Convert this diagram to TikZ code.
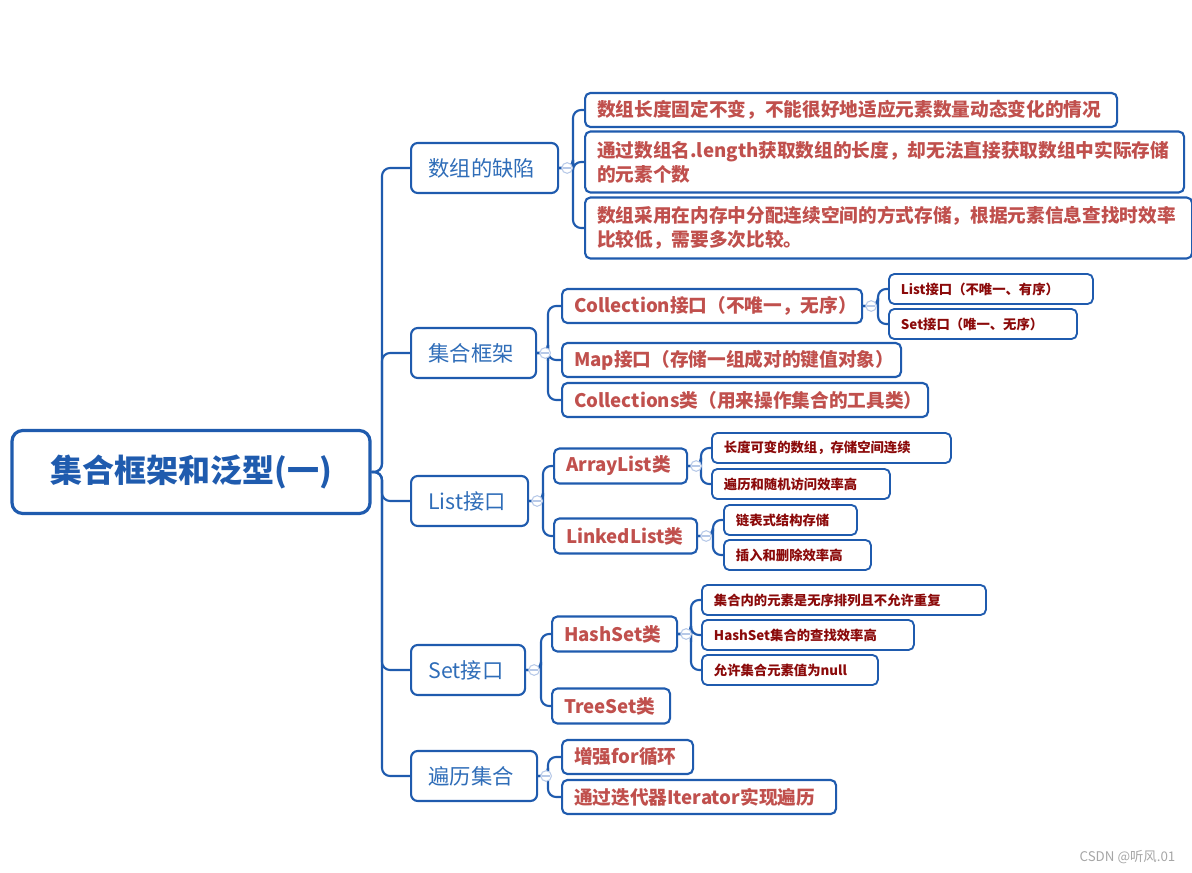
\documentclass[tikz,border=0pt]{standalone}
\usepackage{fontspec}
\setmainfont{Noto Sans CJK SC}
\usetikzlibrary{calc, positioning}
\definecolor{lineblue}{HTML}{1F5BAE}
\definecolor{textblue}{HTML}{2F6DB8}
\definecolor{textred}{HTML}{C0504D}
\definecolor{darkred}{HTML}{8B0A0A}
\definecolor{foldblue}{HTML}{B7C9E8}

% box with left-aligned text: name, x, y centre, width, height (pixels), style, text
\newcommand{\mmbox}[7]{%
  \node[#6, anchor=west, minimum height=#5*0.75, text width=(#4-24)*0.75, inner xsep=9, align=left] (#1) at (#2,#3) {#7};}
\newcommand{\fold}[1]{%
  \draw[foldblue, fill=white, line width=0.8pt] ($(#1.east)+(8,0)$) circle (4pt);
  \draw[foldblue, line width=0.8pt] ($(#1.east)+(4,0)$) -- ++(8,0);}

\begin{document}
\begin{tikzpicture}[x=0.75pt, y=-0.75pt,
    link/.style={lineblue, line width=1.6pt, rounded corners=6},
    rootbox/.style={draw=lineblue, line width=2.4pt, rounded corners=8, text=lineblue, font=\fontsize{24}{28}\selectfont\bfseries},
    topicbox/.style={draw=lineblue, line width=1.6pt, rounded corners=5, text=textblue, font=\fontsize{16}{19}\selectfont},
    subbox/.style={draw=lineblue, line width=1.6pt, rounded corners=4, text=textred, font=\fontsize{14}{18}\selectfont\bfseries},
    leafbox/.style={draw=lineblue, line width=1.4pt, rounded corners=4, text=darkred, font=\fontsize{10}{12}\selectfont\bfseries}
  ]
  \useasboundingbox (0,0) rectangle (1192,873);

  \node[rootbox, minimum width=358*0.75, minimum height=83*0.75] (root) at (191,472) {集合框架和泛型(一)};

  % first level
  \mmbox{arr}{410}{168}{147}{50}{topicbox}{\hspace*{4pt}数组的缺陷}
  \mmbox{coll}{410}{353}{125}{50}{topicbox}{\hspace*{4pt}集合框架}
  \mmbox{list}{410}{501}{117}{50}{topicbox}{\hspace*{4pt}List接口}
  \mmbox{set}{410}{670}{114}{50}{topicbox}{\hspace*{4pt}Set接口}
  \mmbox{iter}{410}{776}{126}{50}{topicbox}{\hspace*{4pt}遍历集合}

  % array drawbacks
  \mmbox{a1}{584}{110}{532}{34}{subbox}{数组长度固定不变，不能很好地适应元素数量动态变化的情况}
  \mmbox{a2}{584}{162}{599}{61}{subbox}{通过数组名.length获取数组的长度，却无法直接获取数组中实际存储\\的元素个数}
  \mmbox{a3}{584}{228}{607}{61}{subbox}{数组采用在内存中分配连续空间的方式存储，根据元素信息查找时效率\\比较低，需要多次比较。}

  % collection framework
  \mmbox{c1}{561}{306}{300}{34}{subbox}{Collection接口（不唯一，无序）}
  \mmbox{c2}{561}{360}{339}{34}{subbox}{Map接口（存储一组成对的键值对象）}
  \mmbox{c3}{561}{400}{366}{34}{subbox}{Collections类（用来操作集合的工具类）}
  \mmbox{c11}{888}{289}{204}{30}{leafbox}{List接口（不唯一、有序）}
  \mmbox{c12}{888}{324}{188}{30}{leafbox}{Set接口（唯一、无序）}

  % list
  \mmbox{l1}{553}{466}{133}{35}{subbox}{ArrayList类}
  \mmbox{l2}{553}{536}{143}{35}{subbox}{LinkedList类}
  \mmbox{l11}{711}{448}{239}{30}{leafbox}{长度可变的数组，存储空间连续}
  \mmbox{l12}{711}{484}{178}{30}{leafbox}{遍历和随机访问效率高}
  \mmbox{l21}{723}{520}{133}{30}{leafbox}{链表式结构存储}
  \mmbox{l22}{723}{555}{147}{30}{leafbox}{插入和删除效率高}

  % set
  \mmbox{s1}{551}{634}{125}{35}{subbox}{HashSet类}
  \mmbox{s2}{551}{706}{118}{35}{subbox}{TreeSet类}
  \mmbox{s11}{701}{600}{284}{30}{leafbox}{集合内的元素是无序排列且不允许重复}
  \mmbox{s12}{701}{635}{212}{30}{leafbox}{HashSet集合的查找效率高}
  \mmbox{s13}{701}{670}{176}{30}{leafbox}{允许集合元素值为null}

  % iteration
  \mmbox{i1}{561}{757}{131}{34}{subbox}{增强for循环}
  \mmbox{i2}{561}{797}{274}{34}{subbox}{通过迭代器Iterator实现遍历}

  % connectors
  \foreach \t in {arr,coll,list,set,iter}
    \draw[link] (root.east) -- (382,472) |- (\t.west);
  \foreach \t in {a1,a2,a3}
    \draw[link] (arr.east) -| (573,168) |- (\t.west);
  \foreach \t in {c1,c2,c3}
    \draw[link] (coll.east) -| (548,353) |- (\t.west);
  \foreach \t in {c11,c12}
    \draw[link] (c1.east) -| (878,306) |- (\t.west);
  \foreach \t in {l1,l2}
    \draw[link] (list.east) -| (543,501) |- (\t.west);
  \foreach \t in {l11,l12}
    \draw[link] (l1.east) -| (701,466) |- (\t.west);
  \foreach \t in {l21,l22}
    \draw[link] (l2.east) -| (713,536) |- (\t.west);
  \foreach \t in {s1,s2}
    \draw[link] (set.east) -| (541,670) |- (\t.west);
  \foreach \t in {s11,s12,s13}
    \draw[link] (s1.east) -| (691,634) |- (\t.west);
  \foreach \t in {i1,i2}
    \draw[link] (iter.east) -| (548,776) |- (\t.west);

  \foreach \p in {arr,coll,list,set,iter,c1,l1,l2,s1}
    {\fold{\p}}

  \node[text=gray!70, font=\fontsize{10}{12}\selectfont, anchor=east] (mark) at (1180,857) {CSDN @听风.01};
\end{tikzpicture}
\end{document}
